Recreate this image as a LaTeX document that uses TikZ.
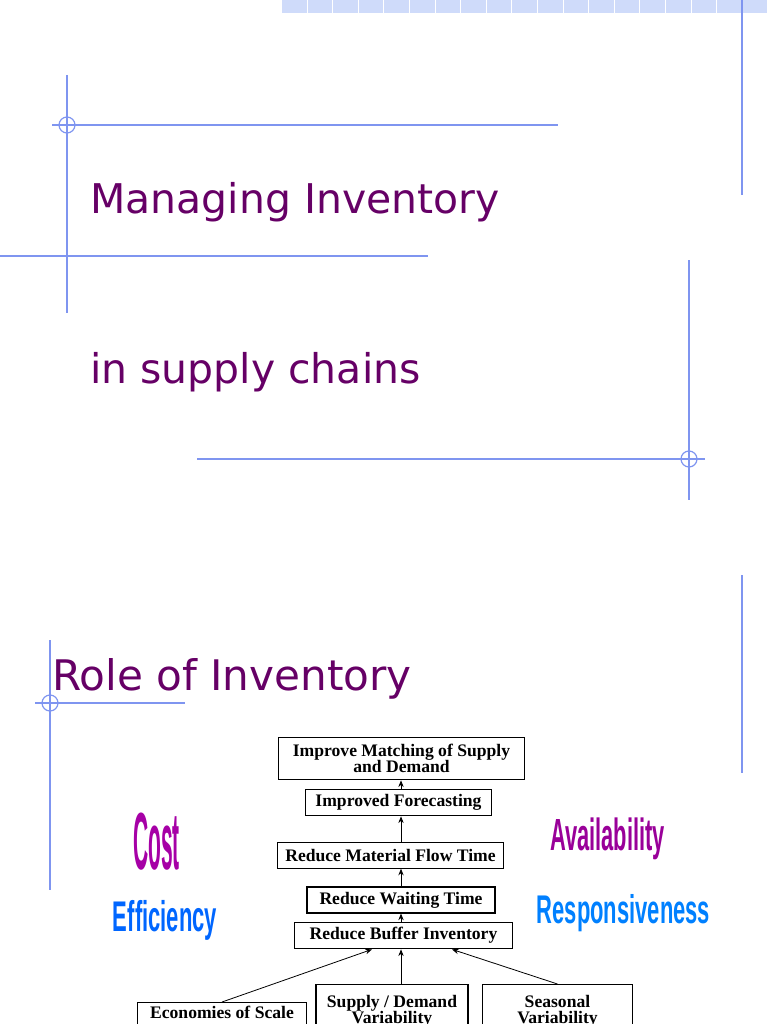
\documentclass[tikz,border=0pt]{standalone}
\usepackage{fontspec}
\usepackage{graphicx}
\setmainfont{Liberation Serif}
\newfontfamily\ttl{DejaVu Sans}
\newfontfamily\wa{Liberation Sans}
\usetikzlibrary{arrows.meta}
\definecolor{gl}{HTML}{7F95F0}
\definecolor{cell}{HTML}{CFDBFA}
\definecolor{tp}{HTML}{660066}
\tikzset{gline/.style={draw=gl,line width=0.9pt},
box/.style={draw,line width=0.8pt,inner sep=1pt,align=center,font=\bfseries\fontsize{13.2}{13}\selectfont},
arr/.style={-{Stealth[length=5pt,width=4pt]},line width=0.6pt},
word/.style={anchor=center,inner sep=0,font=\wa\bfseries}}
\begin{document}
\begin{tikzpicture}[x=0.75pt,y=-0.75pt]
\useasboundingbox (0,0) rectangle (768,1024);
\foreach \i in {0,...,18} \fill[cell] (282+\i*25.6,0) rectangle +(24.6,13);
\draw[gline] (742,0) -- (742,195);
\draw[gline] (67,75) -- (67,313);
\draw[gline] (52,125) -- (558,125);
\draw[gline] (67,125) circle (8);
\draw[gline] (0,256) -- (428,256);
\draw[gline] (689,260) -- (689,500);
\draw[gline] (197,459) -- (705,459);
\draw[gline] (689,459) circle (8);
\draw[gline] (742,575) -- (742,773);
\draw[gline] (35,703) -- (185,703);
\draw[gline] (50,640) -- (50,890);
\draw[gline] (50,703) circle (8);
\node[anchor=base west,tp,font=\ttl\fontsize{30.7}{36}\selectfont,inner sep=0] (t1) at (90,213) {Managing Inventory};
\node[anchor=base west,tp,font=\ttl\fontsize{30.7}{36}\selectfont,inner sep=0] (t2) at (90,383) {in supply chains};
\node[anchor=base west,tp,font=\ttl\fontsize{31.6}{40}\selectfont,inner sep=0] (t3) at (52,690) {Role of Inventory};
\node[box,minimum width=185pt,minimum height=32pt] (a) at (401.5,758.5) {Improve Matching of Supply\\[-1pt]and Demand};
\node[box,minimum width=140pt,minimum height=20pt] (b) at (398.5,802.5) {Improved Forecasting};
\node[box,minimum width=169pt,minimum height=19pt] (c) at (390.5,855.5) {Reduce Material Flow Time};
\node[box,minimum width=141pt,minimum height=19.5pt] (d) at (401,900) {Reduce Waiting Time};
\node[box,minimum width=163pt,minimum height=20pt] (e) at (403.5,935.5) {Reduce Buffer Inventory};
\node[box,minimum width=127pt,minimum height=30pt,anchor=north,text depth=16pt] (f) at (222,1002) {Economies of Scale};
\node[box,minimum width=114pt,minimum height=40pt,anchor=north] (g) at (392,984) {Supply / Demand\\[-1pt]Variability};
\node[box,minimum width=112pt,minimum height=40pt,anchor=north] (h) at (557.5,984) {Seasonal\\[-1pt]Variability};
\draw[arr] (b.north -| 401,0) -- (a.south -| 401,0);
\draw[arr] (c.north -| 401,0) -- (b.south -| 401,0);
\draw[arr] (d.north -| 401,0) -- (c.south -| 401,0);
\draw[arr] (e.north -| 401,0) -- (d.south -| 401,0);
\draw[arr] (f.north) -- (e.south -| 372,0);
\draw[arr] (g.north -| 401,0) -- (e.south -| 401,0);
\draw[arr] (h.north) -- (e.south -| 452,0);
\node[word,text=violet!70!magenta] (w1) at (156.5,841.5) {\resizebox*{35pt}{43pt}{Cost}};
\node[word,text=violet!80!magenta] (w2) at (607.5,839) {\resizebox*{86pt}{31.5pt}{Availability}};
\node[word,text=blue!60!cyan] (w3) at (165,920) {\resizebox*{78pt}{30pt}{Efficiency}};
\node[word,text=blue!50!cyan] (w4) at (623.5,913.5) {\resizebox*{130pt}{28pt}{Responsiveness}};
\end{tikzpicture}
\end{document}
